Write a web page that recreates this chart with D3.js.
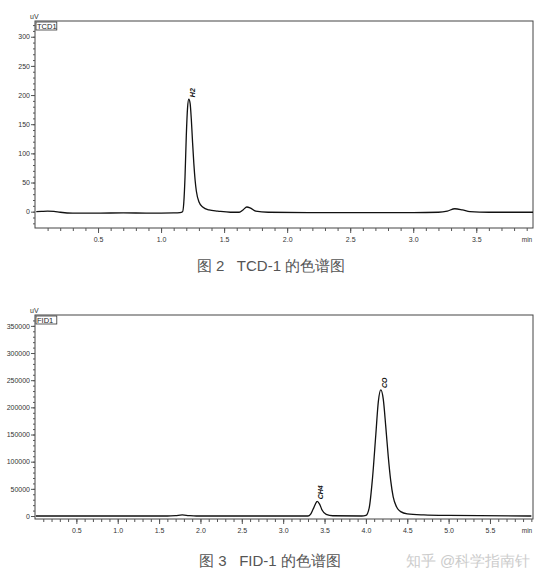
<!DOCTYPE html><html><head><meta charset="utf-8">
<script src="https://cdn.jsdelivr.net/npm/d3@7"></script>
<style>body{margin:0;background:#fff}text{font-family:"Liberation Sans",Arial,sans-serif}</style></head><body>
<svg id="c" width="553" height="582"></svg>
<script>
// TCD-1 trace [min, uV]
const tcdTrace=[[0.01,0],[0.05,0.5],[0.1,1],[0.15,0.5],[0.2,-1],[0.3,-2.5],[0.5,-2.5],[0.7,-2],[0.9,-2.5],[1.1,-2],[1.15,-1.5],[1.17,0],[1.18,15],[1.19,60],[1.20,130],[1.21,178],[1.22,193],[1.23,186],[1.24,158],[1.25,118],[1.26,82],[1.27,54],[1.28,35],[1.30,17],[1.33,8],[1.38,3],[1.45,1],[1.55,-1],[1.62,-1],[1.65,3],[1.68,8],[1.71,6],[1.75,1],[1.85,-1],[2.2,-1.5],[2.6,-1.5],[3.0,-1.5],[3.2,-1],[3.27,1],[3.33,5],[3.39,3],[3.45,0],[3.6,-1],[3.95,-1]];
// FID-1 trace [min, uV]
const fidTrace=[[0.01,0],[1.0,0],[1.6,0],[1.7,800],[1.78,2000],[1.86,800],[1.95,0],[3.0,0],[3.3,0],[3.33,3000],[3.36,12000],[3.39,22000],[3.41,27000],[3.44,22000],[3.47,11000],[3.52,3000],[3.6,500],[3.95,0],[4.0,1000],[4.04,15000],[4.08,70000],[4.12,150000],[4.15,210000],[4.18,232000],[4.21,215000],[4.24,165000],[4.27,110000],[4.30,65000],[4.33,35000],[4.37,17000],[4.42,8000],[4.5,4000],[4.7,2000],[5.0,1000],[6.0,0]];
const tcdPeaks=[{t:1.22,y:193,name:"H2"}];
const fidPeaks=[{t:3.41,y:27000,name:"CH4"},{t:4.18,y:232000,name:"CO"}];
const tcdXTicks=[0.5,1.0,1.5,2.0,2.5,3.0,3.5];
const tcdYTicks=[0,50,100,150,200,250,300];
const fidXTicks=[0.5,1.0,1.5,2.0,2.5,3.0,3.5,4.0,4.5,5.0,5.5];
const fidYTicks=[0,50000,100000,150000,200000,250000,300000,350000];
const captions=["图 2   TCD-1 的色谱图","图 3   FID-1 的色谱图"];
const watermark="知乎 @科学指南针";

const svg=d3.select("#c");
function chart(o){
  const g=svg.append("g");
  const x=d3.scaleLinear().domain(o.xd).range([o.l,o.r]);
  const y=d3.scaleLinear().domain(o.yd).range([o.b,o.t]);
  g.append("rect").attr("x",o.l).attr("y",o.t).attr("width",o.r-o.l).attr("height",o.b-o.t).attr("fill","none").attr("stroke","#444").attr("stroke-width",1);
  g.append("g").attr("transform",`translate(0,${o.b})`).call(d3.axisBottom(x).tickValues(d3.range(0.1,o.xd[1],0.1)).tickSize(3).tickFormat("")).call(a=>a.select(".domain").remove()).selectAll("line").attr("stroke","#555");
  g.append("g").attr("transform",`translate(${o.l},0)`).call(d3.axisLeft(y).tickValues(d3.range(Math.ceil(o.yd[0]/o.ym)*o.ym,o.yd[1],o.ym)).tickSize(2).tickFormat("")).call(a=>a.select(".domain").remove()).selectAll("line").attr("stroke","#555");
  const ax=g.append("g").attr("transform",`translate(0,${o.b})`).call(d3.axisBottom(x).tickValues(o.xt).tickSize(5).tickPadding(4).tickFormat(d3.format(".1f")));
  ax.select(".domain").remove();
  ax.selectAll("text").attr("font-size",7).attr("fill","#333");
  ax.selectAll("line").attr("stroke","#555");
  const ay=g.append("g").attr("transform",`translate(${o.l},0)`).call(d3.axisLeft(y).tickValues(o.yt).tickSize(4).tickPadding(1).tickFormat(d3.format("d")));
  ay.select(".domain").remove();
  ay.selectAll("text").attr("font-size",7).attr("fill","#333");
  ay.selectAll("line").attr("stroke","#555");
  g.append("text").attr("x",o.r-6).attr("y",o.b+14).attr("font-size",6.5).attr("text-anchor","middle").attr("fill","#333").text("min");
  g.append("text").attr("x",o.l-5).attr("y",o.t-2).attr("font-size",7).attr("fill","#333").text("uV");
  g.append("rect").attr("x",o.l+1).attr("y",o.t+1).attr("width",o.lbl.length*5.2).attr("height",8).attr("fill","#fff").attr("stroke","#333").attr("stroke-width",0.8);
  g.append("text").attr("x",o.l+2).attr("y",o.t+8).attr("font-size",7.5).attr("fill","#222").text(o.lbl);
  g.append("path").datum(o.data).attr("fill","none").attr("stroke","#111").attr("stroke-width",1.3)
   .attr("d",d3.line().x(d=>x(d[0])).y(d=>y(d[1])).curve(d3.curveMonotoneX));
  o.peaks.forEach(p=>{
    g.append("text").attr("transform",`translate(${x(p.t)+6},${y(p.y)-2}) rotate(-90)`).attr("font-size",7).attr("font-weight","bold").attr("font-style","italic").attr("fill","#111").text(p.name);
  });
  svg.append("text").attr("x",o.cx).attr("y",o.cy).attr("text-anchor","middle").attr("font-size",15).attr("fill","#555").attr("font-family","Noto Sans CJK SC").style("white-space","pre").text(o.cap);
}
chart({l:35,r:533,t:21,b:228,xd:[0.0,3.95],yd:[-28,327],ym:10,xt:tcdXTicks,yt:tcdYTicks,data:tcdTrace,peaks:tcdPeaks,lbl:"TCD1",cap:captions[0],cx:271,cy:271});
chart({l:35,r:533,t:315,b:519,xd:[0.0,6.02],yd:[-5500,370000],ym:10000,xt:fidXTicks,yt:fidYTicks,data:fidTrace,peaks:fidPeaks,lbl:"FID1",cap:captions[1],cx:270,cy:566});
svg.append("text").attr("x",468).attr("y",566).attr("text-anchor","middle").attr("font-size",15).attr("fill","#ccc").attr("font-family","Noto Sans CJK SC").text(watermark);
</script></body></html>
